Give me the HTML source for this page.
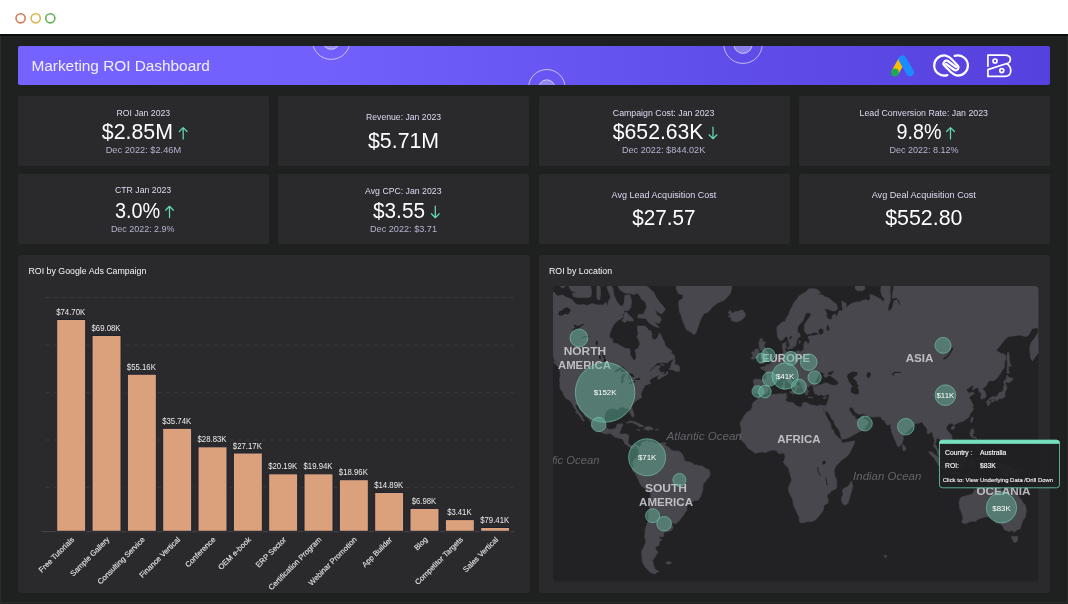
<!DOCTYPE html>
<html><head><meta charset="utf-8"><title>Marketing ROI Dashboard</title>
<style>
html,body{margin:0;padding:0}
body{width:1068px;height:604px;overflow:hidden;background:#1f2120;font-family:"Liberation Sans", sans-serif;position:relative}
.abs{position:absolute}
#top{position:absolute;left:0;top:0;width:1068px;height:34.3px;background:#fff}
#topline{position:absolute;left:0;top:34.3px;width:1068px;height:1.4px;background:#0b0c0c}
#frame{position:absolute;left:0;top:35.5px;width:1065.6px;height:566px;border:1.2px solid #2b2d2c;border-top:none}
#banner{position:absolute;left:18px;top:46px;width:1032px;height:39px;border-radius:2px;background:linear-gradient(90deg,#7563ff 0%,#7260fc 30%,#5f4dea 70%,#5541dd 100%)}
#title{position:absolute;left:31.5px;top:56.5px;font-size:15.4px;color:#f1efff;white-space:nowrap;line-height:18px;letter-spacing:-0.02px}
.card{position:absolute;background:#2a2a2d;border-radius:2px}
.panel{position:absolute;background:#2a2a2d;border-radius:2px}
.ptitle{position:absolute;font-size:8.8px;color:#f6f6f6;white-space:nowrap;line-height:11px}
svg text{font-family:"Liberation Sans", sans-serif}
.lbl{font-size:8.9px;fill:#dcdcf2}
.val{font-size:21.4px;fill:#fff}
.sub{font-size:9px;fill:#b3b3ce}
.bv{font-size:8.6px;fill:#ececec}
.bl{font-size:7.6px;fill:#e4e4e4;stroke:#e4e4e4;stroke-width:0.12px}
.cl{font-weight:bold;fill:rgba(215,215,220,0.82)}
.ol{font-style:italic;fill:#626268}
.bt{font-size:7.9px;fill:#fff}
.tt{font-size:6.8px;fill:#f4f4f4;stroke:#f4f4f4;stroke-width:0.15px}
.tt2{font-size:6.1px;fill:#f4f4f4;stroke:#f4f4f4;stroke-width:0.12px}
</style></head><body>
<div id="top"></div><div id="topline"></div><div id="frame"></div>
<svg class="abs" style="left:0;top:0" width="80" height="34" viewBox="0 0 80 34">
 <circle cx="20.6" cy="18.3" r="4.6" fill="none" stroke="#d67a52" stroke-width="1.6"/>
 <circle cx="35.7" cy="18.3" r="4.6" fill="none" stroke="#e2b44b" stroke-width="1.6"/>
 <circle cx="50.3" cy="18.3" r="4.6" fill="none" stroke="#61b358" stroke-width="1.6"/>
</svg>
<div id="banner"></div>
<div id="title">Marketing ROI Dashboard</div>

<svg class="abs" style="left:0;top:0" width="1068" height="604" viewBox="0 0 1068 604">
 <defs><clipPath id="bn"><rect x="18" y="46" width="1032" height="39" rx="2"/></clipPath></defs>
 <g clip-path="url(#bn)" fill="none" stroke="rgba(255,255,255,0.62)" stroke-width="1">
  <circle cx="331.2" cy="40.6" r="18.8"/><circle cx="331.2" cy="40.6" r="8.7" fill="rgba(255,255,255,0.28)"/>
  <circle cx="546.8" cy="87.8" r="18.3"/><circle cx="546.8" cy="87.8" r="8" fill="rgba(255,255,255,0.28)"/>
  <circle cx="743" cy="44.2" r="19.2"/><circle cx="743" cy="44.2" r="9.2" fill="rgba(255,255,255,0.28)"/>
 </g>
 <g stroke-linecap="round">
  <line x1="895" y1="72.3" x2="902.3" y2="59.6" stroke="#fbbc04" stroke-width="7.6" stroke-linecap="butt"/>
  <line x1="902.5" y1="59.4" x2="910" y2="72.3" stroke="#1a8cff" stroke-width="7.8"/>
  <circle cx="894.9" cy="72.4" r="3.9" fill="#1fa856"/>
 </g>
 <path d="M947.42 75.11A10.1 10.1 0 0 1 934.20 65.50A10.1 10.1 0 0 1 944.30 55.40C949.80 55.40 953.39 61.29 957.35 65.11A2.9 2.9 0 0 1 953.86 69.75L946.03 63.85M954.68 55.89A10.1 10.1 0 0 1 967.90 65.50A10.1 10.1 0 0 1 957.80 75.60C952.30 75.60 948.71 69.71 944.75 65.89A2.9 2.9 0 0 1 948.24 61.25L956.07 67.15" fill="none" stroke="#fff" stroke-width="2.2" stroke-linecap="round" stroke-linejoin="round"/>
 <g fill="none" stroke="#fff" stroke-width="1.7" stroke-linejoin="round" stroke-linecap="round"><path d="M987.92 66.13L987.92 55.08L1004.59 55.08Q1010.67 55.08 1010.39 59.86Q1010.21 62.10 1008.33 62.95L987.92 69.60L987.92 76.43L1004.59 76.43Q1010.96 76.43 1010.77 70.53Q1010.58 65.85 1006.65 63.79"/><circle cx="995.04" cy="60.98" r="2"/><circle cx="1001.78" cy="70.53" r="2"/></g>
</svg>

<div class="card" style="left:18px;top:96.3px;width:251px;height:69.5px"></div><div class="card" style="left:278px;top:96.3px;width:251px;height:69.5px"></div><div class="card" style="left:538.5px;top:96.3px;width:251px;height:69.5px"></div><div class="card" style="left:799px;top:96.3px;width:251px;height:69.5px"></div><div class="card" style="left:18px;top:174.4px;width:251px;height:69.5px"></div><div class="card" style="left:278px;top:174.4px;width:251px;height:69.5px"></div><div class="card" style="left:538.5px;top:174.4px;width:251px;height:69.5px"></div><div class="card" style="left:799px;top:174.4px;width:251px;height:69.5px"></div>
<svg class="abs" style="left:0;top:0" width="1068" height="604" viewBox="0 0 1068 604">
<text class="lbl" x="116.6" y="115.5" textLength="53.5" lengthAdjust="spacingAndGlyphs">ROI Jan 2023</text>
<text class="val" x="101.8" y="138.9" textLength="71.1" lengthAdjust="spacingAndGlyphs">$2.85M</text>
<path d="M183.2 138.9V127.6M179.29999999999998 131.5L183.2 127.6L187.1 131.5" fill="none" stroke="#62d9b0" stroke-width="1.25" stroke-linecap="round" stroke-linejoin="round"/>
<text class="sub" x="105.7" y="153.3" textLength="75.4" lengthAdjust="spacingAndGlyphs">Dec 2022: $2.46M</text>
<text class="lbl" x="366.0" y="120.3" textLength="75.1" lengthAdjust="spacingAndGlyphs">Revenue: Jan 2023</text>
<text class="val" x="368.0" y="147.6" textLength="71.1" lengthAdjust="spacingAndGlyphs">$5.71M</text>
<text class="lbl" x="612.8" y="115.5" textLength="101.6" lengthAdjust="spacingAndGlyphs">Campaign Cost: Jan 2023</text>
<text class="val" x="612.8" y="138.8" textLength="90.7" lengthAdjust="spacingAndGlyphs">$652.63K</text>
<path d="M713 127V138.7M709.1 134.79999999999998L713 138.7L716.9 134.79999999999998" fill="none" stroke="#62d9b0" stroke-width="1.25" stroke-linecap="round" stroke-linejoin="round"/>
<text class="sub" x="621.9" y="153.3" textLength="83.4" lengthAdjust="spacingAndGlyphs">Dec 2022: $844.02K</text>
<text class="lbl" x="859.5" y="115.5" textLength="128.5" lengthAdjust="spacingAndGlyphs">Lead Conversion Rate: Jan 2023</text>
<text class="val" x="896.5" y="138.9" textLength="45.0" lengthAdjust="spacingAndGlyphs">9.8%</text>
<path d="M950.5 138.9V127.6M946.6 131.5L950.5 127.6L954.4 131.5" fill="none" stroke="#62d9b0" stroke-width="1.25" stroke-linecap="round" stroke-linejoin="round"/>
<text class="sub" x="889.5" y="153.3" textLength="69.0" lengthAdjust="spacingAndGlyphs">Dec 2022: 8.12%</text>
<text class="lbl" x="115.0" y="193.4" textLength="56.2" lengthAdjust="spacingAndGlyphs">CTR Jan 2023</text>
<text class="val" x="115.0" y="217.5" textLength="45.3" lengthAdjust="spacingAndGlyphs">3.0%</text>
<path d="M169.5 217.5V206.3M165.6 210.20000000000002L169.5 206.3L173.4 210.20000000000002" fill="none" stroke="#62d9b0" stroke-width="1.25" stroke-linecap="round" stroke-linejoin="round"/>
<text class="sub" x="110.9" y="231.8" textLength="63.6" lengthAdjust="spacingAndGlyphs">Dec 2022: 2.9%</text>
<text class="lbl" x="365.1" y="194.3" textLength="76.4" lengthAdjust="spacingAndGlyphs">Avg CPC: Jan 2023</text>
<text class="val" x="373.0" y="217.7" textLength="52.0" lengthAdjust="spacingAndGlyphs">$3.55</text>
<path d="M435.3 206V217.7M431.40000000000003 213.79999999999998L435.3 217.7L439.2 213.79999999999998" fill="none" stroke="#62d9b0" stroke-width="1.25" stroke-linecap="round" stroke-linejoin="round"/>
<text class="sub" x="370.0" y="231.8" textLength="67.0" lengthAdjust="spacingAndGlyphs">Dec 2022: $3.71</text>
<text class="lbl" x="611.6" y="198.1" textLength="104.7" lengthAdjust="spacingAndGlyphs">Avg Lead Acquisition Cost</text>
<text class="val" x="632.3" y="224.5" textLength="63.3" lengthAdjust="spacingAndGlyphs">$27.57</text>
<text class="lbl" x="871.7" y="198.1" textLength="104.2" lengthAdjust="spacingAndGlyphs">Avg Deal Acquisition Cost</text>
<text class="val" x="885.2" y="224.5" textLength="77.2" lengthAdjust="spacingAndGlyphs">$552.80</text>
</svg>
<div class="panel" style="left:18px;top:255px;width:511.5px;height:338px"></div>
<div class="panel" style="left:538.5px;top:255px;width:511.5px;height:338px"></div>
<div class="ptitle" style="left:28.5px;top:265.5px">ROI by Google Ads Campaign</div>
<div class="ptitle" style="left:549px;top:265.5px">ROI by Location</div>
<svg class="abs" style="left:0;top:0" width="1068" height="604" viewBox="0 0 1068 604">
<line x1="45.5" x2="514" y1="297.5" y2="297.5" stroke="#3b3b40" stroke-width="1" stroke-dasharray="4 4"/>
<line x1="45.5" x2="514" y1="345.1" y2="345.1" stroke="#3b3b40" stroke-width="1" stroke-dasharray="4 4"/>
<line x1="45.5" x2="514" y1="392.7" y2="392.7" stroke="#3b3b40" stroke-width="1" stroke-dasharray="4 4"/>
<line x1="45.5" x2="514" y1="440.0" y2="440.0" stroke="#3b3b40" stroke-width="1" stroke-dasharray="4 4"/>
<line x1="45.5" x2="514" y1="487.7" y2="487.7" stroke="#3b3b40" stroke-width="1" stroke-dasharray="4 4"/>
<line x1="41.5" x2="514" y1="531.6999999999999" y2="531.6999999999999" stroke="#47474c" stroke-width="1"/>
<rect x="56.70" y="319.50" width="29" height="211.80" fill="#dba07c" stroke="#1d2230" stroke-width="1"/>
<text class="bv" x="56.20" y="315.0" textLength="29.0" lengthAdjust="spacingAndGlyphs">$74.70K</text>
<text class="bl" x="74.70" y="540.1" text-anchor="end" transform="rotate(-45 74.70 540.1)">Free Tutorials</text>
<rect x="92.03" y="335.50" width="29" height="195.80" fill="#dba07c" stroke="#1d2230" stroke-width="1"/>
<text class="bv" x="91.53" y="331.0" textLength="29.0" lengthAdjust="spacingAndGlyphs">$69.08K</text>
<text class="bl" x="110.03" y="540.1" text-anchor="end" transform="rotate(-45 110.03 540.1)">Sample Gallery</text>
<rect x="127.36" y="374.20" width="29" height="157.10" fill="#dba07c" stroke="#1d2230" stroke-width="1"/>
<text class="bv" x="126.86" y="369.7" textLength="29.0" lengthAdjust="spacingAndGlyphs">$55.16K</text>
<text class="bl" x="145.36" y="540.1" text-anchor="end" transform="rotate(-45 145.36 540.1)">Consulting Service</text>
<rect x="162.69" y="428.30" width="29" height="103.00" fill="#dba07c" stroke="#1d2230" stroke-width="1"/>
<text class="bv" x="162.19" y="423.8" textLength="29.0" lengthAdjust="spacingAndGlyphs">$35.74K</text>
<text class="bl" x="180.69" y="540.1" text-anchor="end" transform="rotate(-45 180.69 540.1)">Finance Vertical</text>
<rect x="198.02" y="446.80" width="29" height="84.50" fill="#dba07c" stroke="#1d2230" stroke-width="1"/>
<text class="bv" x="197.52" y="442.3" textLength="29.0" lengthAdjust="spacingAndGlyphs">$28.83K</text>
<text class="bl" x="216.02" y="540.1" text-anchor="end" transform="rotate(-45 216.02 540.1)">Conference</text>
<rect x="233.35" y="453.00" width="29" height="78.30" fill="#dba07c" stroke="#1d2230" stroke-width="1"/>
<text class="bv" x="232.85" y="448.5" textLength="29.0" lengthAdjust="spacingAndGlyphs">$27.17K</text>
<text class="bl" x="251.35" y="540.1" text-anchor="end" transform="rotate(-45 251.35 540.1)">OEM e-book</text>
<rect x="268.68" y="473.80" width="29" height="57.50" fill="#dba07c" stroke="#1d2230" stroke-width="1"/>
<text class="bv" x="268.18" y="469.3" textLength="29.0" lengthAdjust="spacingAndGlyphs">$20.19K</text>
<text class="bl" x="286.68" y="540.1" text-anchor="end" transform="rotate(-45 286.68 540.1)">ERP Sector</text>
<rect x="304.01" y="473.80" width="29" height="57.50" fill="#dba07c" stroke="#1d2230" stroke-width="1"/>
<text class="bv" x="303.51" y="469.3" textLength="29.0" lengthAdjust="spacingAndGlyphs">$19.94K</text>
<text class="bl" x="322.01" y="540.1" text-anchor="end" transform="rotate(-45 322.01 540.1)">Certification Program</text>
<rect x="339.34" y="479.70" width="29" height="51.60" fill="#dba07c" stroke="#1d2230" stroke-width="1"/>
<text class="bv" x="338.84" y="475.2" textLength="29.0" lengthAdjust="spacingAndGlyphs">$18.96K</text>
<text class="bl" x="357.34" y="540.1" text-anchor="end" transform="rotate(-45 357.34 540.1)">Webinar Promotion</text>
<rect x="374.67" y="492.50" width="29" height="38.80" fill="#dba07c" stroke="#1d2230" stroke-width="1"/>
<text class="bv" x="374.17" y="488.0" textLength="29.0" lengthAdjust="spacingAndGlyphs">$14.89K</text>
<text class="bl" x="392.67" y="540.1" text-anchor="end" transform="rotate(-45 392.67 540.1)">App Builder</text>
<rect x="410.00" y="508.40" width="29" height="22.90" fill="#dba07c" stroke="#1d2230" stroke-width="1"/>
<text class="bv" x="411.80" y="503.9" textLength="24.4" lengthAdjust="spacingAndGlyphs">$6.98K</text>
<text class="bl" x="428.00" y="540.1" text-anchor="end" transform="rotate(-45 428.00 540.1)">Blog</text>
<rect x="445.33" y="519.60" width="29" height="11.70" fill="#dba07c" stroke="#1d2230" stroke-width="1"/>
<text class="bv" x="447.13" y="515.1" textLength="24.4" lengthAdjust="spacingAndGlyphs">$3.41K</text>
<text class="bl" x="463.33" y="540.1" text-anchor="end" transform="rotate(-45 463.33 540.1)">Competitor Targets</text>
<rect x="480.66" y="527.50" width="29" height="3.80" fill="#dba07c" stroke="#1d2230" stroke-width="1"/>
<text class="bv" x="480.16" y="523.0" textLength="29.0" lengthAdjust="spacingAndGlyphs">$79.41K</text>
<text class="bl" x="498.66" y="540.1" text-anchor="end" transform="rotate(-45 498.66 540.1)">Sales Vertical</text>
</svg>
<svg class="abs" style="left:552.5px;top:286.0px;overflow:visible" width="485.5" height="295.7" viewBox="0 0 485.5 295.7">
<defs><clipPath id="mc"><rect width="485.5" height="295.7" rx="4"/></clipPath></defs>
<g clip-path="url(#mc)"><rect width="485.5" height="295.7" fill="#222225"/>
<path d="M-66.7 27.4L-60.8 23.7L-59.1 21.5L-64.2 15.8L-58.3 10.2L-53.3 4.8L-47.5 1.2L-39.8 3.7L-33.1 6.3L-24.7 7.8L-19.7 9.7L-14.6 12.6L-11.3 10.7L-4.5 7.8L0.5 5.8L4.7 10.2L8.9 8.7L13.1 11.1L19.0 13.5L22.3 17.6L25.7 18.9L30.7 18.5L34.1 19.4L39.1 17.6L44.2 18.9L50.1 18.9L52.6 16.2L54.3 20.2L55.1 16.2L57.6 11.1L53.8 1.2L56.8 -2.6L60.1 2.7L61.0 9.2L63.5 14.9L66.9 19.4L69.4 20.2L71.1 17.1L71.9 9.2L76.9 8.7L78.6 14.9L77.8 21.5L75.3 24.5L71.1 24.5L71.1 29.8L68.5 32.5L66.0 33.7L63.5 35.6L61.0 38.6L58.5 42.9L56.8 48.0L56.4 52.0L59.3 52.3L60.1 57.1L64.3 57.7L67.7 59.8L71.9 62.2L76.9 63.1L77.4 69.4L79.0 71.6L80.3 74.1L82.0 74.3L83.2 71.6L82.8 66.6L81.8 64.3L85.3 62.2L86.9 57.7L85.3 53.0L83.7 51.3L85.3 48.0L84.5 44.6L84.5 40.0L88.7 40.0L92.1 40.0L94.6 42.5L95.4 44.6L97.9 44.6L98.8 48.0L98.8 51.3L100.5 53.6L103.0 53.3L104.7 51.3L106.3 47.0L107.2 47.4L108.9 51.3L111.4 56.1L112.2 59.2L114.7 62.2L118.1 64.3L119.3 66.0L117.3 66.6L119.8 68.0L121.8 70.0L121.8 72.2L119.8 73.8L117.3 74.3L114.7 76.7L111.4 76.7L108.0 76.7L103.8 77.0L102.1 79.3L99.6 81.4L97.1 84.4L95.9 85.6L97.9 85.1L100.5 81.9L103.8 79.8L107.2 79.8L107.5 81.1L105.5 82.6L106.3 83.9L106.7 85.4L108.0 87.1L109.7 88.0L112.2 88.3L113.1 89.2L109.7 90.7L107.2 92.6L105.2 93.5L104.3 91.8L106.7 89.2L104.7 89.5L103.0 90.4L100.5 91.6L97.9 92.8L96.8 94.6L96.6 95.8L97.9 97.4L95.9 98.0L93.7 98.7L91.2 99.8L91.2 101.8L89.7 103.5L88.7 102.5L89.4 104.6L87.9 107.8L88.4 109.9L88.7 111.3L86.9 112.6L84.7 114.0L82.8 115.2L81.1 116.8L79.5 118.4L78.8 121.0L79.6 123.9L80.6 126.7L81.1 128.6L80.8 130.8L79.5 131.0L78.1 129.2L76.6 126.1L76.6 123.9L74.9 121.9L72.7 122.5L70.7 121.1L67.7 121.3L65.5 121.5L65.7 123.5L63.8 123.5L61.8 122.7L58.5 122.3L56.4 123.1L54.3 124.6L52.2 126.5L51.9 129.5L51.4 132.3L51.2 136.0L52.1 138.7L53.4 141.0L54.6 142.6L56.8 143.7L60.1 143.0L62.3 142.6L63.5 140.5L63.8 138.7L66.9 137.8L69.4 137.8L69.7 139.1L68.5 141.4L68.0 143.5L67.2 144.9L66.4 147.6L67.7 147.9L70.2 147.9L72.7 147.7L75.3 148.8L75.8 150.5L75.3 153.6L74.9 156.2L76.4 158.4L78.1 159.4L79.8 159.8L82.0 158.6L83.7 159.1L85.5 160.3L85.8 161.5L84.7 162.7L83.8 161.1L82.0 159.8L80.6 160.8L80.6 162.3L78.6 162.2L76.4 161.0L74.9 160.1L73.1 158.4L71.4 157.4L71.4 156.0L69.4 153.5L68.4 152.6L66.4 152.4L63.8 151.6L61.3 150.7L59.3 148.8L56.8 147.2L54.3 148.1L51.2 147.7L48.4 146.3L45.0 144.9L41.7 143.5L39.1 141.4L38.3 139.6L38.6 137.4L37.0 134.7L34.1 131.4L31.8 129.9L31.2 127.7L29.1 125.8L26.5 122.9L25.4 119.6L22.8 118.6L22.7 121.0L24.9 124.2L26.5 126.7L28.6 129.5L29.9 132.3L31.6 134.7L30.4 135.3L28.2 132.7L26.9 130.1L24.9 128.0L22.3 126.1L23.7 124.4L21.5 122.5L20.3 120.0L18.8 117.0L16.8 114.4L14.8 113.4L12.9 112.8L10.9 109.3L9.7 106.3L7.7 103.5L6.7 100.5L7.1 96.9L6.6 93.5L7.2 90.0L7.2 86.8L6.2 83.1L6.0 81.6L8.9 82.1L9.7 83.9L9.7 80.6L8.6 79.3L5.9 77.5L3.0 75.7L1.3 74.3L0.5 70.8L-2.0 67.4L-3.4 64.6L-5.4 62.2L-7.9 57.7L-10.4 53.6L-13.8 53.6L-16.3 51.3L-19.7 49.0L-24.7 48.0L-29.7 45.3L-33.9 46.3L-36.5 49.7L-39.8 51.3L-39.0 45.7L-36.5 43.9L-40.7 46.3L-43.2 50.4L-44.0 54.6L-48.2 58.3L-52.4 61.6L-57.5 63.7L-61.3 64.9L-56.6 61.3L-53.3 59.2L-49.9 55.5L-48.7 52.0L-51.6 52.3L-56.3 52.3L-56.6 48.7L-60.8 46.3L-62.5 42.9L-61.7 38.6L-58.3 36.7L-54.9 35.6L-54.9 31.8L-58.3 31.8L-63.3 31.4ZM8.4 81.6L5.5 80.9L0.0 75.7L1.3 75.4L5.2 77.5L7.7 80.1ZM104.7 41.5L99.6 39.3L95.4 36.3L92.9 32.5L88.7 32.2L84.5 31.8L85.3 28.6L90.4 28.2L92.1 24.5L93.7 20.7L92.1 15.8L88.7 13.5L87.0 10.2L84.5 6.8L81.1 8.7L76.9 7.3L72.7 7.3L69.4 5.8L66.0 2.7L64.3 -2.6L65.2 -9.3L72.7 -12.9L79.5 -12.3L85.3 -7.0L91.2 -1.5L96.3 2.2L100.8 6.3L103.0 11.1L107.2 17.1L111.4 21.5L112.2 23.7L108.9 27.8L105.5 26.6L102.1 23.7L103.8 29.0L107.2 31.0L108.4 33.7L106.3 37.5L103.0 36.7L100.5 34.8L103.8 38.9L106.3 41.1ZM69.0 34.8L71.9 36.7L74.4 34.5L76.9 35.2L80.6 34.8L79.5 32.2L75.3 28.6L73.6 26.2L71.1 27.0L69.4 29.0L71.1 31.8ZM19.0 7.3L20.7 10.7L24.9 11.6L30.7 11.6L35.8 11.6L38.1 10.2L38.6 5.3L37.5 0.1L34.1 -8.2L27.4 -7.0L18.1 -5.3L15.6 0.1L18.1 4.8L24.0 6.3ZM5.5 -2.0L8.9 2.2L13.1 0.1L17.3 -5.3L20.7 -9.9L17.3 -15.9L10.6 -17.2L5.5 -11.1ZM44.2 13.5L46.9 13.9L47.5 7.8L46.7 -8.2L44.2 -8.2L43.7 7.8ZM55.1 -3.7L59.3 -2.6L63.5 -8.2L63.5 -14.1L55.9 -14.1L54.3 -8.2ZM115.9 83.4L117.3 81.4L118.9 76.2L121.5 73.3L122.3 73.5L121.5 77.5L123.1 78.8L125.7 79.3L126.5 81.4L127.0 83.9L125.7 85.9L124.0 85.1L122.3 85.4L120.6 83.9ZM107.2 77.8L110.5 78.6L111.7 79.8L108.9 79.3ZM107.5 85.9L109.7 86.3L111.4 86.6L110.5 87.6L108.0 86.8ZM112.4 88.5L114.1 85.1L115.1 87.6L113.9 88.5ZM141.6 48.4L143.3 46.3L145.0 41.1L147.5 33.7L150.9 27.8L155.1 26.2L160.1 20.2L165.1 16.7L171.0 14.4L175.2 10.2L177.7 6.8L178.6 2.7L178.6 -5.3L181.9 -59.7L114.7 -59.7L123.1 -5.3L123.1 2.7L125.7 7.8L129.9 8.7L129.9 12.6L125.7 14.9L125.7 20.2L126.5 25.7L128.2 29.8L129.5 34.5L131.5 39.3L133.7 43.9L137.4 46.0L139.9 48.0ZM177.7 34.1L181.1 35.6L184.5 36.0L188.7 33.7L191.2 31.8L192.7 29.0L190.8 25.3L188.7 23.7L185.3 25.3L181.6 25.7L179.4 27.8L177.2 24.1L175.2 27.0L177.7 28.2L175.2 30.2L178.6 32.2ZM72.9 137.1L76.1 135.3L78.6 134.9L82.0 135.8L85.3 137.3L88.7 138.9L90.9 140.1L89.5 140.7L85.3 140.7L85.8 139.4L83.7 138.7L80.3 137.1L77.8 136.4L75.3 136.9ZM90.6 143.3L92.9 140.7L95.1 140.7L97.9 140.9L100.6 143.0L99.6 143.5L97.1 143.5L95.4 144.6L93.2 143.7ZM84.0 143.5L87.4 143.9L86.2 144.4L84.0 143.9ZM102.6 143.2L105.3 143.3L105.0 144.0L102.6 144.0ZM111.6 156.7L113.2 156.5L113.1 157.7L111.6 157.7ZM84.7 162.7L85.5 160.3L86.5 161.3L87.4 159.8L88.5 158.8L88.7 156.9L89.9 156.0L90.9 155.7L92.6 155.5L94.2 154.5L95.4 153.8L95.9 154.8L94.8 155.9L95.4 156.5L96.3 156.2L97.6 155.3L98.1 154.3L98.4 155.3L100.5 155.9L101.0 156.9L103.8 156.9L105.5 157.7L107.5 157.2L109.7 156.7L111.4 156.7L110.4 157.9L112.2 158.4L113.2 160.3L115.1 160.8L117.3 162.7L118.9 164.4L121.5 164.9L124.0 164.9L126.5 165.5L128.2 166.9L129.4 167.7L129.9 169.8L131.0 171.8L131.5 173.5L130.7 174.8L132.7 175.1L134.4 175.8L135.7 175.8L138.3 176.6L140.8 178.2L141.1 179.3L143.3 178.8L145.8 179.7L148.3 179.7L150.9 181.0L153.0 182.9L155.9 183.4L156.7 185.7L157.1 187.4L156.7 190.0L155.1 192.2L153.4 193.9L152.2 196.0L150.9 196.8L150.0 198.6L150.0 202.0L149.7 205.0L148.8 207.3L147.8 210.0L146.7 212.3L145.0 214.3L142.5 214.5L140.4 215.1L137.8 216.4L135.2 218.2L134.1 219.7L133.9 221.9L133.6 224.8L131.9 226.7L130.4 229.6L128.2 232.0L125.8 235.2L124.3 236.6L123.1 237.4L121.0 237.4L118.4 236.6L117.4 235.6L117.6 237.0L119.4 238.7L119.3 240.3L120.3 241.0L118.9 243.9L116.4 245.4L113.1 246.1L111.0 245.8L110.9 248.7L111.0 250.2L108.9 250.7L106.3 250.4L106.3 252.7L108.5 253.1L108.7 254.3L107.2 254.7L106.3 256.1L105.8 259.6L103.8 260.1L102.1 262.0L103.5 264.5L105.0 266.5L103.0 269.0L101.8 271.6L100.5 272.9L99.5 274.7L100.5 278.2L100.8 279.4L101.8 282.4L103.8 284.4L106.0 285.0L103.8 286.2L102.5 288.0L100.5 287.4L97.9 286.8L95.4 284.4L93.7 282.7L92.1 280.7L90.4 278.2L89.5 276.1L89.0 272.1L88.7 268.2L88.7 264.5L90.4 262.0L91.2 259.6L92.4 257.3L92.9 253.8L91.7 252.2L91.6 249.3L92.2 247.1L92.1 243.9L92.6 242.2L93.4 239.7L94.6 236.6L95.4 233.6L95.4 230.6L95.6 227.7L95.8 224.8L96.6 221.9L97.1 219.1L97.3 215.4L97.6 212.7L97.8 209.1L97.4 206.3L95.8 204.8L93.7 203.4L91.2 202.0L88.7 200.3L87.4 198.4L86.2 195.5L84.5 192.2L83.0 189.1L81.5 186.6L79.5 184.9L79.1 183.2L79.0 182.0L80.6 180.5L81.3 179.0L79.6 178.7L79.8 176.5L80.8 174.8L81.1 173.5L82.8 172.8L83.3 171.8L84.5 170.6L85.3 168.9L85.7 167.2L85.3 165.2L85.5 163.5ZM113.1 276.1L115.6 275.5L118.4 276.3L117.3 278.0L114.7 278.0L113.1 277.4ZM205.6 110.3L206.6 110.1L208.8 111.5L210.7 111.3L212.2 111.8L213.9 110.5L215.5 110.1L217.7 108.9L220.6 108.2L223.9 108.2L227.3 107.8L230.2 108.0L232.0 107.2L232.8 107.4L234.0 107.8L233.2 109.1L233.4 110.5L234.2 111.5L232.5 113.4L232.8 114.6L234.4 115.6L236.5 116.4L238.2 116.2L241.1 117.2L241.9 119.0L244.1 120.0L246.6 121.1L248.6 121.0L249.1 119.6L249.3 117.4L251.7 116.2L254.2 116.8L255.9 118.0L257.5 118.8L260.9 119.2L264.3 120.2L266.8 119.0L269.3 119.2L270.1 119.8L269.8 122.1L270.5 124.2L271.8 126.1L272.5 128.6L274.3 132.0L275.4 134.2L277.4 136.9L278.0 138.7L278.2 141.4L278.5 143.0L280.4 144.0L281.6 148.1L283.2 149.3L285.3 151.9L287.3 153.1L288.3 153.8L288.1 155.2L290.3 157.1L292.8 156.5L296.2 155.9L299.5 155.2L301.6 154.7L301.4 157.1L300.4 159.6L298.7 163.0L297.0 166.4L295.3 168.9L292.8 171.4L290.0 173.1L287.3 175.6L285.3 177.8L283.6 179.2L282.7 180.7L281.7 182.7L280.9 185.2L281.7 186.6L281.6 189.1L282.4 191.7L283.6 193.1L283.6 196.0L283.9 199.4L283.6 201.7L281.9 203.4L278.5 204.8L276.9 207.0L274.3 208.7L274.0 210.5L275.0 212.7L275.2 215.4L274.8 217.3L271.8 218.8L270.6 219.9L270.6 222.9L269.8 225.4L268.0 227.3L266.4 229.6L264.3 232.2L262.2 234.0L259.7 235.2L257.5 235.6L254.2 235.8L250.8 236.4L249.1 237.2L247.1 236.2L246.5 235.4L246.1 233.0L246.3 231.0L244.6 228.3L243.4 225.0L241.8 222.3L240.7 219.7L239.9 216.4L239.7 213.6L238.2 210.9L236.5 207.3L235.4 204.7L235.4 202.0L236.2 199.4L237.4 196.8L238.6 194.3L238.4 192.5L237.4 190.0L237.0 187.1L236.0 184.9L236.0 183.2L234.9 181.5L233.2 179.8L231.5 178.2L230.3 176.1L231.3 174.3L231.7 172.8L232.0 170.6L231.8 168.9L230.7 167.4L229.5 167.2L227.3 167.4L225.6 167.6L224.4 165.9L223.1 164.4L220.6 164.0L218.1 164.4L215.5 165.2L213.0 166.4L211.3 166.6L209.7 166.1L207.1 166.1L204.6 166.7L202.9 167.4L200.4 166.1L197.9 164.0L196.2 163.2L194.5 162.0L193.4 160.0L192.9 158.6L191.2 156.9L190.3 155.9L188.7 154.5L187.5 153.6L187.3 151.9L186.3 149.8L187.3 148.4L188.0 146.7L188.3 144.0L188.0 141.7L187.5 139.6L187.0 138.3L187.3 136.5L188.7 134.2L190.3 132.0L190.8 129.9L192.9 127.7L193.9 126.1L196.2 125.2L198.4 123.3L199.2 121.3L199.1 119.2L199.9 117.0L201.6 115.2L203.8 114.0L205.0 112.0ZM298.4 195.3L300.0 200.8L299.2 202.0L298.7 204.7L297.5 209.1L296.2 213.1L295.0 217.3L293.7 218.6L291.5 219.1L289.5 217.8L288.6 214.5L288.5 211.8L290.0 209.1L289.8 206.4L289.5 203.8L291.1 202.0L293.7 201.2L295.8 199.4L297.0 197.3ZM206.5 109.7L205.0 108.6L203.8 107.4L202.1 107.8L200.6 107.8L200.8 105.0L199.8 104.0L200.4 101.4L200.9 98.7L200.6 96.2L199.9 94.6L202.1 93.0L205.5 93.2L208.8 93.7L212.2 93.7L213.0 92.8L213.5 90.0L213.5 87.6L211.8 85.1L210.5 83.6L208.0 82.9L207.6 81.4L210.5 80.6L212.9 81.1L212.7 78.6L213.5 78.8L215.9 78.6L218.1 77.3L218.2 75.1L219.7 74.6L221.4 73.5L222.6 71.6L223.6 69.4L225.6 68.0L227.6 67.7L229.8 67.4L230.3 66.0L229.7 63.7L229.3 59.2L229.5 57.7L231.5 57.1L233.2 55.5L232.8 59.2L233.7 59.8L232.3 62.2L232.0 64.0L233.7 65.7L234.0 66.6L236.2 65.7L238.2 65.4L239.6 66.9L242.4 65.7L245.8 64.3L247.0 65.4L248.8 65.4L250.0 64.3L250.8 62.2L250.8 58.3L252.0 55.8L253.5 55.5L254.7 57.7L256.4 57.1L256.5 53.6L255.0 52.3L255.0 50.7L257.5 49.7L260.9 49.7L262.9 49.0L266.3 48.4L264.3 47.0L262.6 46.3L260.1 46.7L256.7 48.0L254.2 48.4L252.5 46.7L251.3 44.6L251.3 39.3L253.3 35.6L256.7 31.0L258.0 29.0L256.7 26.6L253.0 27.0L251.3 31.0L250.0 34.8L246.6 38.2L244.8 41.1L244.4 44.6L244.9 46.3L247.0 48.0L247.3 50.4L244.9 52.3L243.6 55.2L243.1 58.6L242.1 60.4L240.2 60.4L239.4 62.5L237.4 62.5L237.0 60.1L236.0 57.7L235.4 55.2L234.4 51.3L233.4 49.7L233.0 50.7L231.5 51.7L229.3 54.2L227.3 54.6L225.0 52.0L224.3 48.7L223.9 44.6L223.9 41.1L226.5 38.6L229.0 36.0L232.0 35.6L233.2 32.2L235.7 28.6L236.7 24.9L239.1 20.7L240.7 17.1L243.3 13.9L245.8 10.2L249.1 7.8L252.5 6.3L255.9 2.7L259.2 2.7L262.6 2.7L265.9 4.8L267.6 6.8L265.1 8.7L269.3 8.7L271.8 10.7L276.0 12.1L280.2 15.8L283.6 18.5L284.8 22.8L282.7 24.9L279.4 24.9L275.2 23.2L271.0 22.8L273.5 26.6L274.0 31.8L276.9 33.7L279.4 32.5L278.9 29.8L282.4 27.8L283.6 31.4L286.1 24.5L288.6 24.9L289.8 23.7L288.6 14.9L292.8 17.1L293.7 22.0L296.2 18.9L299.5 17.1L304.6 15.8L306.3 16.2L307.9 14.9L313.0 13.5L315.5 15.3L317.2 12.6L316.8 8.7L318.9 8.7L323.9 11.1L326.4 12.6L328.1 13.5L330.3 16.2L331.5 13.0L328.9 9.7L327.8 5.3L328.1 0.1L331.5 -8.2L337.3 -7.0L337.8 0.1L337.0 5.3L337.7 10.2L337.3 14.9L335.7 19.4L334.8 23.7L336.5 24.9L339.0 22.4L339.9 19.4L340.7 14.9L344.1 13.5L345.7 18.5L347.4 18.9L346.2 14.4L343.2 11.6L339.5 12.6L339.5 7.8L340.4 2.7L341.5 -2.6L349.9 -20.4L517.9 -20.4L517.9 41.1L492.7 48.0L487.7 63.7L479.3 74.9L477.6 72.2L477.0 66.6L476.8 60.7L478.5 56.1L481.0 53.0L484.3 48.0L486.0 44.6L484.3 41.8L479.3 42.5L475.9 49.0L472.6 50.7L469.2 49.7L465.9 49.0L460.8 50.0L455.8 50.4L452.4 53.0L449.1 57.1L446.5 60.7L443.2 64.3L446.5 66.6L448.2 67.4L450.7 68.0L452.4 69.4L452.9 72.2L451.6 76.2L451.4 81.4L449.1 84.6L447.4 87.6L444.9 91.1L442.3 93.9L439.0 95.1L437.0 94.2L435.1 96.2L433.4 99.2L431.4 101.4L429.7 102.5L429.7 103.3L431.4 104.6L432.9 107.8L433.1 110.3L432.3 111.8L430.2 112.6L428.1 113.2L427.7 110.9L428.4 108.4L428.1 106.8L426.4 106.1L425.5 104.6L426.0 102.5L424.4 101.6L421.3 102.9L419.2 104.0L420.0 101.4L420.5 99.6L418.8 99.4L416.3 101.8L413.8 103.1L413.3 104.6L415.1 106.1L416.0 107.4L418.5 106.1L421.3 107.0L421.0 108.0L418.5 109.3L417.5 110.1L416.0 112.0L417.5 113.4L418.5 116.0L420.2 118.4L420.3 120.2L418.5 121.3L420.5 122.1L420.0 124.8L418.3 126.1L416.8 128.6L416.3 130.5L415.0 132.0L413.8 132.7L412.1 134.2L410.4 135.3L407.9 135.8L406.4 136.4L404.5 137.3L402.0 138.0L401.0 139.4L400.7 140.0L400.0 137.8L397.8 137.3L396.1 138.0L394.8 139.1L393.6 140.9L393.3 142.6L394.8 144.9L396.1 146.7L397.8 147.9L398.7 150.2L399.2 152.8L399.0 154.8L397.8 156.2L396.1 157.1L395.0 157.4L394.6 158.8L392.4 160.0L391.6 160.3L391.9 158.3L391.1 157.4L389.4 156.9L388.6 155.7L387.7 154.5L386.1 153.3L385.1 152.1L383.9 152.1L383.5 153.6L382.9 155.7L382.2 157.4L382.4 159.1L383.5 160.1L384.2 162.5L385.2 163.3L386.9 164.4L388.6 165.9L389.4 167.7L389.3 170.1L390.3 172.3L389.4 172.6L387.4 171.3L385.7 169.9L384.6 168.1L384.2 165.5L383.9 163.9L382.9 163.0L381.5 161.3L380.7 160.5L380.7 158.8L381.2 157.1L381.4 154.5L381.0 151.9L379.8 149.7L379.7 147.0L378.5 146.2L377.3 146.7L375.6 147.9L374.0 147.6L374.3 144.9L374.0 142.8L373.0 141.4L371.8 140.1L370.6 138.9L369.9 136.9L368.9 135.8L367.2 136.9L365.1 137.3L363.4 137.4L361.7 138.2L361.2 140.0L359.2 141.0L357.5 142.6L355.5 144.9L353.6 146.5L351.6 147.6L350.3 148.8L350.1 151.0L350.4 152.8L349.8 154.5L349.6 157.1L348.6 157.6L348.3 159.1L347.1 159.8L345.7 161.1L344.2 159.8L343.7 157.9L342.9 155.7L341.9 154.0L341.2 152.4L340.4 149.7L339.2 147.6L338.5 144.9L337.8 142.3L337.7 139.6L337.5 137.8L337.3 136.9L336.5 138.7L334.5 139.2L331.8 136.5L333.1 135.6L331.1 134.5L328.9 133.4L328.1 131.8L327.3 130.7L323.9 130.8L319.7 131.0L316.3 130.7L313.8 130.3L311.6 128.4L310.1 127.5L307.1 128.4L304.6 127.7L302.1 126.0L300.7 123.7L299.5 121.5L297.5 121.3L296.2 122.3L296.5 124.2L297.9 126.7L299.7 128.6L299.9 130.3L300.9 130.5L301.6 129.4L302.2 130.8L301.9 132.1L302.9 132.9L306.3 132.9L308.3 131.0L309.8 129.4L310.3 128.8L310.1 130.8L310.8 132.5L313.0 133.8L315.2 135.6L316.0 136.0L314.3 138.7L313.0 139.8L312.5 142.3L311.0 143.2L308.4 144.8L305.4 146.2L303.2 147.6L300.4 149.0L297.5 150.9L294.5 152.1L291.5 152.9L288.8 153.3L288.1 151.6L287.4 149.3L287.3 146.7L286.1 144.4L284.4 141.9L282.7 140.0L281.4 137.8L280.7 135.1L278.5 132.7L277.4 129.9L275.2 126.7L274.0 125.4L274.3 122.9L273.2 126.1L271.5 124.4L270.3 122.1L269.8 119.6L271.8 119.8L273.2 119.2L274.0 117.4L274.5 115.6L275.4 113.6L275.9 110.9L276.2 108.6L275.2 108.6L273.5 108.4L271.8 109.7L270.1 109.7L267.6 108.2L266.8 109.3L265.1 109.5L263.4 108.2L261.7 107.8L261.2 105.7L260.1 104.6L260.6 102.7L259.6 101.4L261.7 100.5L264.3 100.0L264.6 98.9L268.1 98.7L271.5 96.9L274.3 96.9L276.9 98.5L279.4 99.2L282.7 99.2L285.3 98.0L285.4 96.2L283.2 94.2L281.1 92.3L278.5 90.7L277.2 89.2L278.5 88.8L279.9 87.1L281.6 84.6L279.4 84.9L277.4 85.6L274.7 86.8L274.3 88.3L276.9 89.2L275.2 90.0L272.7 91.4L271.8 90.9L270.3 89.0L272.0 87.6L270.1 87.3L269.0 86.3L267.3 86.3L265.6 88.8L265.3 90.4L263.8 92.3L263.1 93.9L262.2 95.5L262.6 97.1L264.3 98.5L262.6 99.2L261.4 99.6L260.4 100.5L259.4 100.0L259.4 99.4L257.5 99.4L256.2 99.8L255.9 100.9L255.5 101.6L254.2 100.5L253.7 101.8L254.5 103.1L254.2 104.2L255.9 105.3L255.9 106.3L254.9 105.9L254.4 107.0L254.5 108.9L253.3 109.1L252.0 108.2L251.2 106.1L251.2 105.0L250.5 103.8L249.5 102.2L248.1 100.5L248.1 98.0L247.5 96.5L245.4 94.9L242.8 93.5L241.1 91.6L239.9 89.5L238.7 90.2L238.6 88.3L236.4 89.0L236.2 91.6L238.4 93.5L239.4 96.0L242.4 97.1L242.4 98.3L244.6 99.4L246.6 100.9L246.5 101.8L244.4 100.5L243.4 101.8L244.3 103.5L243.3 104.6L242.4 105.9L241.8 105.3L242.6 104.0L241.9 101.6L241.4 101.1L240.4 100.0L239.4 99.6L238.2 98.7L236.2 97.6L234.4 96.0L233.2 94.6L232.7 92.6L231.2 91.6L230.3 91.4L229.0 92.6L228.0 93.0L226.5 94.4L224.4 93.9L222.3 93.5L220.9 94.4L220.8 96.0L220.9 97.4L219.2 98.5L216.9 99.6L215.5 101.6L215.0 102.7L215.9 104.0L214.7 105.0L214.2 106.5L212.4 108.0L211.8 108.4L209.7 108.4L208.0 108.6ZM206.0 77.3L208.0 76.7L209.7 76.2L211.3 75.9L213.9 75.4L216.0 75.4L217.9 74.3L217.9 73.8L216.7 73.5L217.2 72.7L218.4 70.5L216.4 69.4L215.9 68.0L215.2 66.6L213.5 64.9L212.9 62.2L211.8 60.7L210.0 60.7L211.2 59.5L212.2 57.4L212.5 55.8L209.7 55.5L208.5 56.1L210.2 53.0L207.1 52.6L206.6 54.9L205.8 56.8L206.1 59.2L206.3 62.2L207.5 62.2L207.1 64.3L209.7 64.0L209.8 65.7L210.5 67.2L210.3 68.6L208.2 68.6L208.0 70.0L208.7 71.4L206.8 72.4L208.5 73.3L210.5 73.8L210.2 74.3L208.0 74.9ZM205.1 71.6L205.5 68.6L206.3 65.2L205.1 63.1L202.9 62.8L201.4 64.3L201.3 65.7L198.7 66.0L199.1 68.3L200.4 68.9L199.6 70.2L198.2 71.9L198.7 73.3L201.3 73.0L202.9 71.9ZM236.5 105.7L241.8 105.0L240.9 108.4L236.5 106.5ZM229.3 99.4L231.8 98.7L231.8 103.1L229.8 103.8ZM230.0 96.0L231.5 94.6L231.5 98.0L230.3 98.3ZM255.0 110.9L259.7 111.3L259.6 112.0L255.2 111.5ZM269.8 112.0L273.7 110.5L272.7 112.2L270.6 112.8ZM234.0 61.6L236.5 60.4L236.7 63.1L234.4 63.1ZM246.1 54.9L247.5 54.9L246.6 57.7L246.0 57.1ZM302.1 2.7L304.6 4.8L309.6 4.8L312.1 2.7L309.6 -8.2L302.9 -8.2ZM435.5 114.0L437.3 113.4L439.8 113.2L442.3 112.8L442.7 114.4L443.7 115.0L445.5 113.4L445.7 112.6L447.7 112.8L448.7 112.6L450.4 112.0L452.3 110.5L451.8 108.2L452.4 105.7L453.4 103.5L454.1 102.2L453.3 100.3L453.1 98.3L451.2 98.7L450.7 100.0L450.6 102.5L450.2 104.4L448.4 106.1L446.2 106.8L445.4 107.8L444.4 109.9L443.7 110.7L440.7 110.7L438.5 110.9L436.5 112.6L435.5 113.4ZM435.5 114.2L436.8 114.8L437.3 116.0L436.8 118.0L435.8 119.4L435.0 119.8L434.3 119.2L434.3 117.6L433.6 116.6L433.4 115.2L434.6 114.6ZM438.0 114.6L441.0 113.4L441.8 114.4L441.0 115.4L439.0 116.4L438.0 115.6ZM451.1 98.0L452.8 97.4L452.4 95.8L454.9 96.5L456.3 96.9L458.3 94.6L460.0 93.9L459.5 91.8L458.0 92.3L455.8 91.1L454.1 89.0L453.4 91.1L453.1 93.7L451.4 94.2L450.7 96.2ZM454.1 87.6L456.6 86.8L455.4 84.4L455.8 80.1L458.3 80.1L456.3 74.9L456.3 70.8L455.8 68.0L455.3 65.7L454.1 68.0L453.8 72.2L454.4 77.5L454.1 82.6ZM418.8 131.2L420.3 131.4L419.7 134.2L418.5 136.9L417.5 135.1L418.5 132.3ZM398.2 141.9L399.5 140.3L401.9 140.5L402.0 141.4L400.3 143.3L399.0 143.5L398.2 143.0ZM349.9 158.3L352.0 160.5L353.0 162.2L352.6 163.9L351.0 164.9L349.9 164.4L349.6 162.2L349.6 160.0ZM375.6 165.4L379.3 166.1L381.0 168.1L383.5 169.8L385.2 171.1L387.7 173.1L389.9 174.8L391.1 177.3L393.6 179.8L393.6 183.2L393.3 184.7L391.3 184.6L389.4 183.0L387.2 181.2L385.2 179.2L384.0 176.5L382.2 174.3L381.2 171.9L378.8 169.9L376.8 167.7L375.5 165.5ZM392.4 186.3L394.0 184.7L397.5 185.4L401.2 186.4L402.0 185.6L404.9 186.4L407.9 187.8L407.7 189.5L403.7 188.8L399.5 187.9L397.0 187.9L394.3 187.3ZM398.7 174.3L399.0 171.8L402.0 172.1L402.7 170.4L405.4 169.4L407.1 167.2L409.6 165.5L411.6 163.2L412.9 163.9L414.6 165.5L415.8 166.1L414.1 167.6L413.4 168.9L413.4 171.4L415.3 173.1L413.4 174.0L412.9 176.5L411.3 177.3L410.9 180.3L410.4 181.5L408.1 181.7L406.2 180.3L403.4 180.7L400.8 179.7L400.3 177.3L399.0 175.6ZM416.8 173.5L418.5 172.6L422.2 173.3L425.5 172.1L424.7 174.1L422.2 174.0L418.8 174.1L417.5 176.3L419.7 176.3L422.7 176.1L420.8 177.8L419.7 178.2L421.3 180.3L422.5 182.4L421.3 184.1L419.8 182.5L418.8 179.8L417.8 179.8L417.8 184.1L416.3 184.1L416.3 180.7L415.1 179.3L416.0 177.0L416.8 174.5ZM418.2 143.2L420.8 143.3L421.0 146.7L419.7 148.4L420.5 150.7L422.7 151.2L423.9 153.3L422.2 152.4L420.2 151.2L418.3 151.4L418.2 150.2L417.1 149.3L417.0 147.0L417.8 144.9ZM420.5 163.0L423.0 160.3L426.0 158.4L427.7 160.5L427.9 163.3L426.4 165.0L426.0 163.3L423.9 163.3L423.0 162.0ZM420.5 154.8L422.5 155.3L424.4 155.7L426.4 153.6L426.7 156.2L425.5 157.9L423.9 157.6L422.7 159.1L421.3 158.3L420.5 156.9ZM412.4 160.8L414.6 158.6L416.5 155.7L415.8 157.4L413.8 159.8ZM423.0 192.2L425.5 190.0L428.9 189.0L428.1 190.5L424.7 192.0ZM410.4 189.0L413.8 188.8L417.1 188.8L421.8 188.6L421.8 189.6L417.1 189.8L412.1 190.0ZM429.7 171.8L431.4 172.3L431.8 174.3L430.6 176.0L430.1 174.0ZM435.6 176.1L438.1 175.5L440.7 176.1L441.0 178.7L442.3 180.3L444.0 178.7L447.0 177.3L449.9 178.5L452.4 179.2L455.8 180.5L458.3 181.2L460.5 182.9L462.2 184.6L463.8 185.1L462.8 186.3L463.8 187.9L465.5 190.0L467.5 192.0L468.9 192.2L467.2 192.7L464.2 191.9L462.5 190.7L460.8 188.5L458.5 187.6L456.8 188.6L454.9 190.3L452.4 190.2L449.9 188.5L447.4 189.0L448.7 186.9L447.9 184.6L445.7 183.0L443.2 182.2L440.7 181.4L439.0 181.7L438.6 180.3L437.3 179.5L439.8 178.8L437.8 178.5L435.6 177.2ZM464.7 184.1L467.5 183.2L470.1 181.9L471.4 182.0L470.1 184.2L466.7 185.4ZM406.6 213.8L407.2 212.3L409.6 210.5L412.1 210.2L415.5 209.1L418.8 208.4L421.0 205.9L420.8 203.8L423.0 204.5L423.5 202.4L425.5 201.0L427.6 198.9L429.7 198.9L431.1 200.3L433.1 200.1L433.6 197.9L435.3 195.8L438.1 195.3L438.3 194.1L442.3 195.5L445.4 195.5L444.7 197.3L443.9 198.9L443.2 200.3L445.7 201.7L448.2 203.4L449.9 204.8L452.1 204.7L453.1 202.0L453.4 199.4L453.4 196.5L454.4 193.4L455.1 192.9L456.1 194.9L456.8 197.9L458.3 199.1L459.6 200.8L460.0 203.1L461.2 206.4L463.3 208.0L465.5 209.6L466.7 212.3L468.7 213.8L469.2 216.0L472.2 218.8L472.9 221.9L473.4 224.8L472.8 228.6L472.1 231.6L470.1 234.2L469.2 236.2L468.4 238.7L467.5 241.8L467.4 242.8L464.2 243.7L462.2 245.4L461.3 246.3L459.5 244.8L458.6 244.3L456.6 245.6L453.6 244.6L451.6 243.9L450.2 241.8L449.9 239.5L447.9 238.9L448.2 237.2L447.4 236.0L447.0 237.8L445.7 238.1L446.5 235.6L447.2 233.6L446.5 234.6L444.9 236.0L443.7 237.4L442.7 236.6L441.8 234.0L440.7 232.8L438.1 231.6L435.6 230.8L432.3 230.8L428.9 232.0L426.4 232.8L423.9 233.8L423.0 235.4L419.7 235.2L417.1 235.4L414.6 236.8L413.8 237.6L411.3 237.6L409.1 236.4L408.7 234.8L409.9 234.0L409.9 231.6L409.1 228.6L408.6 226.7L407.4 223.8L406.2 221.0L406.6 220.2L406.2 218.2L406.2 216.0ZM458.6 249.8L461.7 250.7L464.5 250.2L464.7 252.7L464.0 255.4L462.3 256.4L460.8 256.1L459.6 253.8L458.8 251.6ZM331.1 269.5L333.6 269.5L333.8 271.0L331.5 271.3Z" fill="#48474d" stroke="#48474d" stroke-width="0.6" stroke-linejoin="round"/>
<path d="M294.8 88.5L297.9 86.3L301.2 85.4L304.6 86.6L304.2 89.2L301.2 91.1L300.0 91.6L302.1 94.2L304.1 95.8L303.7 98.0L305.9 99.6L304.4 101.4L305.4 102.9L305.9 106.8L305.9 108.0L302.9 108.6L300.4 107.4L298.2 106.5L297.7 104.6L298.5 100.9L300.0 100.5L298.7 99.2L297.0 96.9L295.3 94.6L295.2 92.3L294.0 90.9ZM314.0 86.8L316.3 86.3L318.0 87.1L317.7 89.5L316.0 91.8L314.0 91.4L313.5 89.2ZM339.0 88.5L340.7 86.1L343.2 85.6L346.6 86.1L348.3 86.1L347.4 87.1L343.2 86.8L341.2 87.8L339.9 90.0ZM389.9 73.3L391.6 73.5L394.5 71.4L397.0 68.6L399.5 64.3L400.2 61.6L399.0 61.6L397.3 65.2L395.3 68.6L392.8 70.8L390.3 72.2ZM266.3 48.0L268.5 48.4L270.6 46.3L270.1 43.6L267.3 42.2L265.6 44.6ZM273.5 44.6L276.0 44.6L276.5 41.8L274.3 38.6L273.7 41.1ZM236.4 53.0L237.9 53.0L239.1 50.7L237.7 50.0L236.7 51.3ZM60.8 85.9L63.5 85.9L66.0 85.1L67.4 84.1L68.5 86.3L71.1 86.1L73.2 86.3L73.4 84.6L71.9 82.9L70.2 80.9L67.2 80.6L65.5 82.6L63.5 83.6ZM68.0 97.6L69.4 97.6L70.6 95.8L70.6 92.3L71.9 90.0L72.7 88.0L71.1 87.8L69.4 88.5L68.4 90.4L67.7 91.1L68.4 93.5L67.9 95.8ZM73.2 87.8L75.3 87.6L77.8 87.6L79.5 87.8L81.1 90.0L81.1 91.1L79.5 90.9L78.6 89.5L78.3 91.6L78.3 93.9L77.1 94.6L76.6 92.8L75.3 93.0L74.8 93.0L75.6 91.1L75.4 89.5L74.1 88.3ZM75.4 97.6L76.9 98.0L78.6 97.8L81.1 96.5L83.0 95.1L82.0 94.9L79.5 95.3L76.9 96.7L75.8 96.7ZM81.5 93.9L83.7 93.9L86.2 93.9L87.5 93.2L87.0 91.8L84.5 92.3L82.3 93.0ZM5.5 29.0L8.9 29.8L12.3 27.8L14.8 28.6L17.3 25.7L17.6 23.7L14.8 21.5L11.4 22.0L8.9 24.5L5.5 25.7ZM19.0 44.6L21.5 45.0L24.0 43.9L26.5 41.8L29.1 39.7L31.6 38.2L29.9 37.8L27.4 39.3L24.0 40.0L21.5 38.2L20.7 39.7L22.3 41.8L19.8 42.9ZM28.7 52.6L32.4 51.3L36.6 50.4L36.6 49.7L31.6 50.0L28.7 51.7ZM42.8 59.2L44.5 59.5L45.0 55.2L43.3 54.6L42.5 56.8ZM49.4 76.5L52.9 76.5L53.4 74.3L52.2 72.2L51.6 69.4L50.9 66.9L49.2 67.2L49.6 70.0L50.6 72.2L51.2 74.1ZM46.2 73.0L47.9 73.3L47.9 70.8L46.7 68.9L45.9 70.0ZM269.6 175.5L271.0 174.6L272.3 174.8L272.7 176.3L271.8 178.0L270.6 178.7L269.5 178.0L269.3 176.5ZM264.6 180.5L265.6 182.4L265.3 184.9L266.8 187.4L268.0 189.5L267.0 189.5L265.6 187.1L264.4 184.9L264.4 182.4ZM272.5 191.0L273.7 192.5L273.8 195.1L274.7 197.7L274.7 199.3L273.7 198.9L273.2 196.0L272.7 193.4ZM97.8 201.2L98.8 201.0L100.0 202.6L99.1 202.9Z" fill="#222225"/>
<text class="cl" x="10.7" y="69.2" font-size="11.5" textLength="42.3" lengthAdjust="spacingAndGlyphs">NORTH</text>
<text class="cl" x="5.0" y="83.3" font-size="11.5" textLength="52.9" lengthAdjust="spacingAndGlyphs">AMERICA</text>
<text class="cl" x="91.9" y="206.2" font-size="11.5" textLength="42.0" lengthAdjust="spacingAndGlyphs">SOUTH</text>
<text class="cl" x="86.1" y="220.1" font-size="11.5" textLength="53.9" lengthAdjust="spacingAndGlyphs">AMERICA</text>
<text class="cl" x="209.0" y="75.9" font-size="11.5" textLength="48.0" lengthAdjust="spacingAndGlyphs">EUROPE</text>
<text class="cl" x="352.7" y="75.8" font-size="11.5" textLength="27.8" lengthAdjust="spacingAndGlyphs">ASIA</text>
<text class="cl" x="224.2" y="157.0" font-size="11.5" textLength="43.4" lengthAdjust="spacingAndGlyphs">AFRICA</text>
<text class="cl" x="423.5" y="208.7" font-size="11.5" textLength="54.0" lengthAdjust="spacingAndGlyphs">OCEANIA</text>
<text class="ol" x="113.5" y="153.6" font-size="10.5" textLength="75.3" lengthAdjust="spacingAndGlyphs">Atlantic Ocean</text>
<text class="ol" x="300.1" y="194.4" font-size="10.5" textLength="68.3" lengthAdjust="spacingAndGlyphs">Indian Ocean</text>
<text class="ol" x="-23.0" y="178.2" font-size="10.5" textLength="69.5" lengthAdjust="spacingAndGlyphs">Pacific Ocean</text>
<circle cx="25.9" cy="51.9" r="8.9" fill="rgba(98,182,158,0.46)" stroke="rgba(120,206,180,0.6)" stroke-width="1"/>
<circle cx="52.1" cy="106.4" r="29.8" fill="rgba(98,182,158,0.46)" stroke="rgba(120,206,180,0.6)" stroke-width="1"/>
<circle cx="45.7" cy="138.5" r="7.2" fill="rgba(98,182,158,0.46)" stroke="rgba(120,206,180,0.6)" stroke-width="1"/>
<circle cx="215.2" cy="68.8" r="6.6" fill="rgba(98,182,158,0.46)" stroke="rgba(120,206,180,0.6)" stroke-width="1"/>
<circle cx="208.6" cy="72.1" r="5" fill="rgba(98,182,158,0.46)" stroke="rgba(120,206,180,0.6)" stroke-width="1"/>
<circle cx="237.9" cy="72.4" r="7" fill="rgba(98,182,158,0.46)" stroke="rgba(120,206,180,0.6)" stroke-width="1"/>
<circle cx="255.8" cy="76.2" r="8.3" fill="rgba(98,182,158,0.46)" stroke="rgba(120,206,180,0.6)" stroke-width="1"/>
<circle cx="216.7" cy="93.1" r="7.1" fill="rgba(98,182,158,0.46)" stroke="rgba(120,206,180,0.6)" stroke-width="1"/>
<circle cx="261.6" cy="91.5" r="6.6" fill="rgba(98,182,158,0.46)" stroke="rgba(120,206,180,0.6)" stroke-width="1"/>
<circle cx="245.9" cy="100.6" r="7.5" fill="rgba(98,182,158,0.46)" stroke="rgba(120,206,180,0.6)" stroke-width="1"/>
<circle cx="204.8" cy="105.5" r="5.8" fill="rgba(98,182,158,0.46)" stroke="rgba(120,206,180,0.6)" stroke-width="1"/>
<circle cx="211.9" cy="105.5" r="6.3" fill="rgba(98,182,158,0.46)" stroke="rgba(120,206,180,0.6)" stroke-width="1"/>
<circle cx="232.1" cy="90.0" r="13.2" fill="rgba(98,182,158,0.46)" stroke="rgba(120,206,180,0.6)" stroke-width="1"/>
<circle cx="390.0" cy="59.4" r="8" fill="rgba(98,182,158,0.46)" stroke="rgba(120,206,180,0.6)" stroke-width="1"/>
<circle cx="392.4" cy="109.2" r="10.4" fill="rgba(98,182,158,0.46)" stroke="rgba(120,206,180,0.6)" stroke-width="1"/>
<circle cx="311.9" cy="137.6" r="7.4" fill="rgba(98,182,158,0.46)" stroke="rgba(120,206,180,0.6)" stroke-width="1"/>
<circle cx="352.8" cy="140.7" r="8.3" fill="rgba(98,182,158,0.46)" stroke="rgba(120,206,180,0.6)" stroke-width="1"/>
<circle cx="448.5" cy="221.8" r="15.2" fill="rgba(98,182,158,0.46)" stroke="rgba(120,206,180,0.6)" stroke-width="1"/>
<circle cx="94.1" cy="171.3" r="18.5" fill="rgba(98,182,158,0.46)" stroke="rgba(120,206,180,0.6)" stroke-width="1"/>
<circle cx="126.4" cy="193.9" r="6.5" fill="rgba(98,182,158,0.46)" stroke="rgba(120,206,180,0.6)" stroke-width="1"/>
<circle cx="99.6" cy="229.7" r="7" fill="rgba(98,182,158,0.46)" stroke="rgba(120,206,180,0.6)" stroke-width="1"/>
<circle cx="111.1" cy="237.7" r="7.3" fill="rgba(98,182,158,0.46)" stroke="rgba(120,206,180,0.6)" stroke-width="1"/>
<text class="bt" x="52.1" y="109.4" text-anchor="middle">$152K</text>
<text class="bt" x="232.1" y="93.0" text-anchor="middle">$41K</text>
<text class="bt" x="392.4" y="112.2" text-anchor="middle">$11K</text>
<text class="bt" x="448.5" y="224.8" text-anchor="middle">$83K</text>
<text class="bt" x="94.1" y="174.3" text-anchor="middle">$71K</text>
</g>
<g transform="translate(386.0 153.8)"><rect x="0.5" y="0.5" width="120" height="47.5" rx="3" fill="rgba(32,32,35,0.93)" stroke="#5fc0a2" stroke-width="0.9"/><path d="M0.5 3.5 a3 3 0 0 1 3 -3 h114 a3 3 0 0 1 3 3 z" fill="#76e0c0" stroke="#76e0c0" stroke-width="1"/><text class="tt" x="6" y="15.5">Country :</text><text class="tt" x="41" y="15.5">Australia</text><text class="tt" x="6" y="28.3">ROI:</text><text class="tt" x="41" y="28.3">$83K</text><text class="tt2" x="3.7" y="42.3" textLength="110.5" lengthAdjust="spacingAndGlyphs">Click to: View Underlying Data /Drill Down</text></g>
</svg>
</body></html>
